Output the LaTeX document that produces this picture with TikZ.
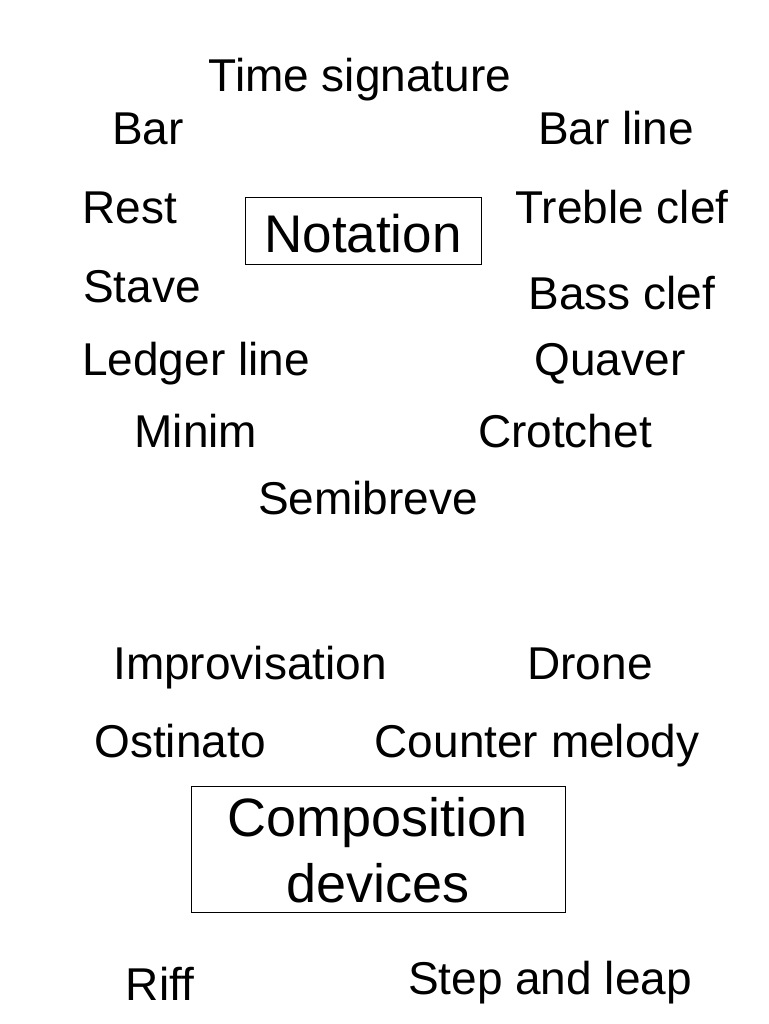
\documentclass[tikz,border=0pt]{standalone}
\usepackage{fontspec}
\setmainfont{Liberation Sans}
\begin{document}
\begin{tikzpicture}[x=1pt,y=1pt,
  lbl/.style={anchor=base,inner sep=0pt,font=\fontsize{46}{50}\selectfont},
  big/.style={draw,line width=0.8pt,font=\fontsize{56}{66}\selectfont,align=center}]
\useasboundingbox (0,0) rectangle (768,-1024);
\node[lbl] (ts) at (360,-92) {Time signature};
\node[lbl] (bar) at (148,-145) {Bar};
\node[lbl] (bl) at (616,-145) {Bar line};
\node[lbl] (rest) at (130,-224) {Rest};
\node[lbl] (tc) at (622,-224) {Treble clef};
\node[lbl] (st) at (142,-302) {Stave};
\node[lbl] (bc) at (622,-309) {Bass clef};
\node[lbl] (ll) at (196,-375) {Ledger line};
\node[lbl] (q) at (610,-375) {Quaver};
\node[lbl] (mi) at (196,-447) {Minim};
\node[lbl] (cr) at (565,-447) {Crotchet};
\node[lbl] (sb) at (368,-514) {Semibreve};
\node[lbl] (imp) at (250,-679) {Improvisation};
\node[lbl] (dr) at (590,-679) {Drone};
\node[lbl] (os) at (180,-757) {Ostinato};
\node[lbl] (cm) at (537,-757) {Counter melody};
\node[lbl] (riff) at (160,-1000) {Riff};
\node[lbl] (sl) at (550,-994) {Step and leap};
\node[draw,line width=0.8pt,minimum width=236pt,minimum height=67pt,inner sep=0pt] (nbox) at (363,-230.5) {};
\node[anchor=base,inner sep=0pt,font=\fontsize{53}{60}\selectfont] (nt) at (363,-252) {Notation};
\node[draw,line width=0.8pt,minimum width=374pt,minimum height=126pt,inner sep=0pt] (cbox) at (378,-849) {};
\node[anchor=base,inner sep=0pt,font=\fontsize{54}{60}\selectfont] (c1) at (378,-836) {Composition};
\node[anchor=base,inner sep=0pt,font=\fontsize{54}{60}\selectfont] (c2) at (378,-902) {devices};
\end{tikzpicture}
\end{document}
